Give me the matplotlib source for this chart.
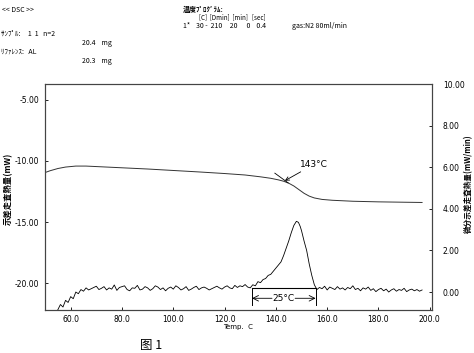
import matplotlib
matplotlib.use('Agg')
import matplotlib.pyplot as plt
import numpy as np

plt.rcParams['font.family'] = ['DejaVu Sans', 'Noto Sans CJK JP']

# DSC curve (left axis, mW)
dsc_temp = [50, 52, 55, 58, 62, 66, 70, 80, 90, 100, 110, 120, 128, 134, 138,
            141, 143, 145, 147, 149, 151, 153, 155, 158, 162, 170, 180, 190, 197]
dsc_val = [-10.95, -10.8, -10.62, -10.5, -10.42, -10.42, -10.46, -10.56, -10.66,
           -10.78, -10.9, -11.03, -11.15, -11.3, -11.42, -11.55, -11.66, -11.82,
           -12.05, -12.35, -12.65, -12.88, -13.03, -13.15, -13.22, -13.3, -13.35,
           -13.38, -13.4]

# DDSC curve (right axis, mW/min), read at 1 C steps
base_temp = list(range(55, 129))
base_val = [-0.85, -0.6, -0.72, -0.4, -0.5, -0.22, -0.32, 0.0, -0.08, 0.12,
            0.04, 0.2, 0.1, 0.16, 0.22, 0.28, 0.12, 0.18, 0.26, 0.1,
            0.2, 0.14, 0.34, 0.08, 0.22, 0.26, 0.3, 0.12, 0.06, 0.2,
            0.18, 0.32, 0.1, 0.14, 0.26, 0.2, 0.08, 0.16, 0.3, 0.24,
            0.12, 0.2, 0.06, 0.18, 0.24, 0.14, 0.3, 0.22, 0.1, 0.16,
            0.26, 0.08, 0.14, 0.22, 0.28, 0.12, 0.2, 0.24, 0.18, 0.1,
            0.16, 0.22, 0.28, 0.2, 0.14, 0.24, 0.3, 0.2, 0.16, 0.32,
            0.22, 0.3, 0.26, 0.36]
peak_temp = [129, 130, 131, 132, 133, 134, 135, 136, 137, 138, 139, 140, 141, 142,
             143, 144, 145, 146, 147, 148, 148.8, 149.5, 150, 151, 152, 153, 154,
             155, 156]
peak_val = [0.24, 0.2, 0.35, 0.3, 0.5, 0.45, 0.6, 0.65, 0.8, 0.85, 1.0, 1.15, 1.3,
            1.45, 1.75, 2.1, 2.45, 2.85, 3.2, 3.4, 3.35, 3.15, 2.95, 2.45, 2.0, 1.35,
            0.8, 0.35, 0.12]
tail_temp = list(range(157, 198))
tail_val = [0.22, 0.16, 0.28, 0.1, 0.24, 0.18, 0.12, 0.26, 0.14, 0.2,
            0.1, 0.22, 0.16, 0.3, 0.12, 0.18, 0.06, 0.2, 0.14, 0.24,
            0.08, 0.16, 0.02, 0.12, 0.18, 0.06, 0.14, 0.0, 0.1, 0.16,
            0.04, 0.12, 0.08, 0.18, 0.02, 0.1, 0.14, 0.06, 0.12, 0.04,
            0.1]

x_ticks = [60, 80, 100, 120, 140, 160, 180, 200]
left_ticks = [-5, -10, -15, -20]
right_ticks = [0, 2, 4, 6, 8, 10]

# annotations
tg_point = (143.5, -11.62)
tangent_x = [139.6, 144.8]
tangent_y = [-11.0, -11.8]
width_start, width_end, width_base = 130.7, 155.5, 0.2

ddsc_temp = base_temp + peak_temp + tail_temp
ddsc_val = base_val + peak_val + tail_val

fig = plt.figure(figsize=(4.74, 3.53), dpi=100)
ax = fig.add_axes([0.095, 0.122, 0.816, 0.64])
ax2 = ax.twinx()

ax.plot(dsc_temp, dsc_val, color='#333333', lw=0.7)
ax2.plot(ddsc_temp, ddsc_val, color='black', lw=0.6)

# 143 C tangent + label
ax.plot(tangent_x, tangent_y, color='black', lw=0.6)
ax.annotate('143°C', xy=tg_point, xytext=(149.3, -10.5), fontsize=6.5,
            arrowprops=dict(arrowstyle='->', lw=0.6, color='black', shrinkA=0, shrinkB=0))

# 25 C peak width
ax2.plot([width_start, width_end], [width_base, width_base], color='black', lw=0.8)
ax2.plot([width_start, width_start], [width_base, -0.6], color='black', lw=0.7)
ax2.plot([width_end, width_end], [width_base, -0.6], color='black', lw=0.7)
ax2.annotate('', xy=(width_start, -0.3), xytext=(138.5, -0.3),
             arrowprops=dict(arrowstyle='->', lw=0.6, shrinkA=0, shrinkB=0))
ax2.annotate('', xy=(width_end, -0.3), xytext=(147.5, -0.3),
             arrowprops=dict(arrowstyle='->', lw=0.6, shrinkA=0, shrinkB=0))
ax2.text(143.1, -0.3, '25°C', fontsize=6.5, ha='center', va='center')

ax.set_xlim(50, 200.8)
ax.set_ylim(-22.2, -3.7)
ax2.set_ylim(-0.86, 10.0)

ax.set_xticks(x_ticks)
ax.set_xticklabels(['%.1f' % v for v in x_ticks], fontsize=5.5)
ax.set_yticks(left_ticks)
ax.set_yticklabels(['%.2f' % v for v in left_ticks], fontsize=5.5)
ax2.set_yticks(right_ticks)
ax2.set_yticklabels(['%.2f' % v for v in right_ticks], fontsize=5.5)
ax.tick_params(direction='in', length=2, width=0.6, pad=4)
ax2.tick_params(direction='in', length=2, width=0.6, pad=8)

for a in (ax, ax2):
    for s in a.spines.values():
        s.set_linewidth(0.8)
        s.set_color('#444444')

ax.set_xlabel('Temp.  C', fontsize=5, labelpad=0)
fig.text(0.008, 0.465, '示差走査熱量(mW)', rotation=90, fontsize=6,
         family=['Noto Sans CJK JP', 'DejaVu Sans'], weight='bold', va='center')
fig.text(0.999, 0.48, '微分示差走査熱量(mW/min)', rotation=90, fontsize=5.5,
         family=['Noto Sans CJK JP', 'DejaVu Sans'], weight='bold', va='center', ha='right')

# header
jp = ['Noto Sans CJK JP', 'DejaVu Sans']
hs = 5
fig.text(0.004, 0.967, '<< DSC >>', fontsize=hs, family=jp)
fig.text(0.386, 0.967, '温度ﾌﾟﾛｸﾞﾗﾑ:', fontsize=hs, family=jp, weight='bold')
fig.text(0.42, 0.945, '[C]  [Dmin]  [min]   [sec]', fontsize=4.5, family=jp)
fig.text(0.386, 0.922, '1*    30 -  210     20      0    0.4', fontsize=hs, family=jp)
fig.text(0.615, 0.922, 'gas:N2 80ml/min', fontsize=hs, family=jp)
fig.text(0.002, 0.898, 'ｻﾝﾌﾟﾙ:     1  1   n=2', fontsize=hs, family=jp)
fig.text(0.172, 0.872, '20.4    mg', fontsize=hs, family=jp)
fig.text(0.002, 0.849, 'ﾘﾌｧﾚﾝｽ:   AL', fontsize=hs, family=jp)
fig.text(0.172, 0.822, '20.3    mg', fontsize=hs, family=jp)

fig.text(0.295, 0.012, '图 1', fontsize=9, family=['Noto Sans CJK SC', 'DejaVu Sans'])

fig.savefig('out.png', dpi=100, facecolor='white')
